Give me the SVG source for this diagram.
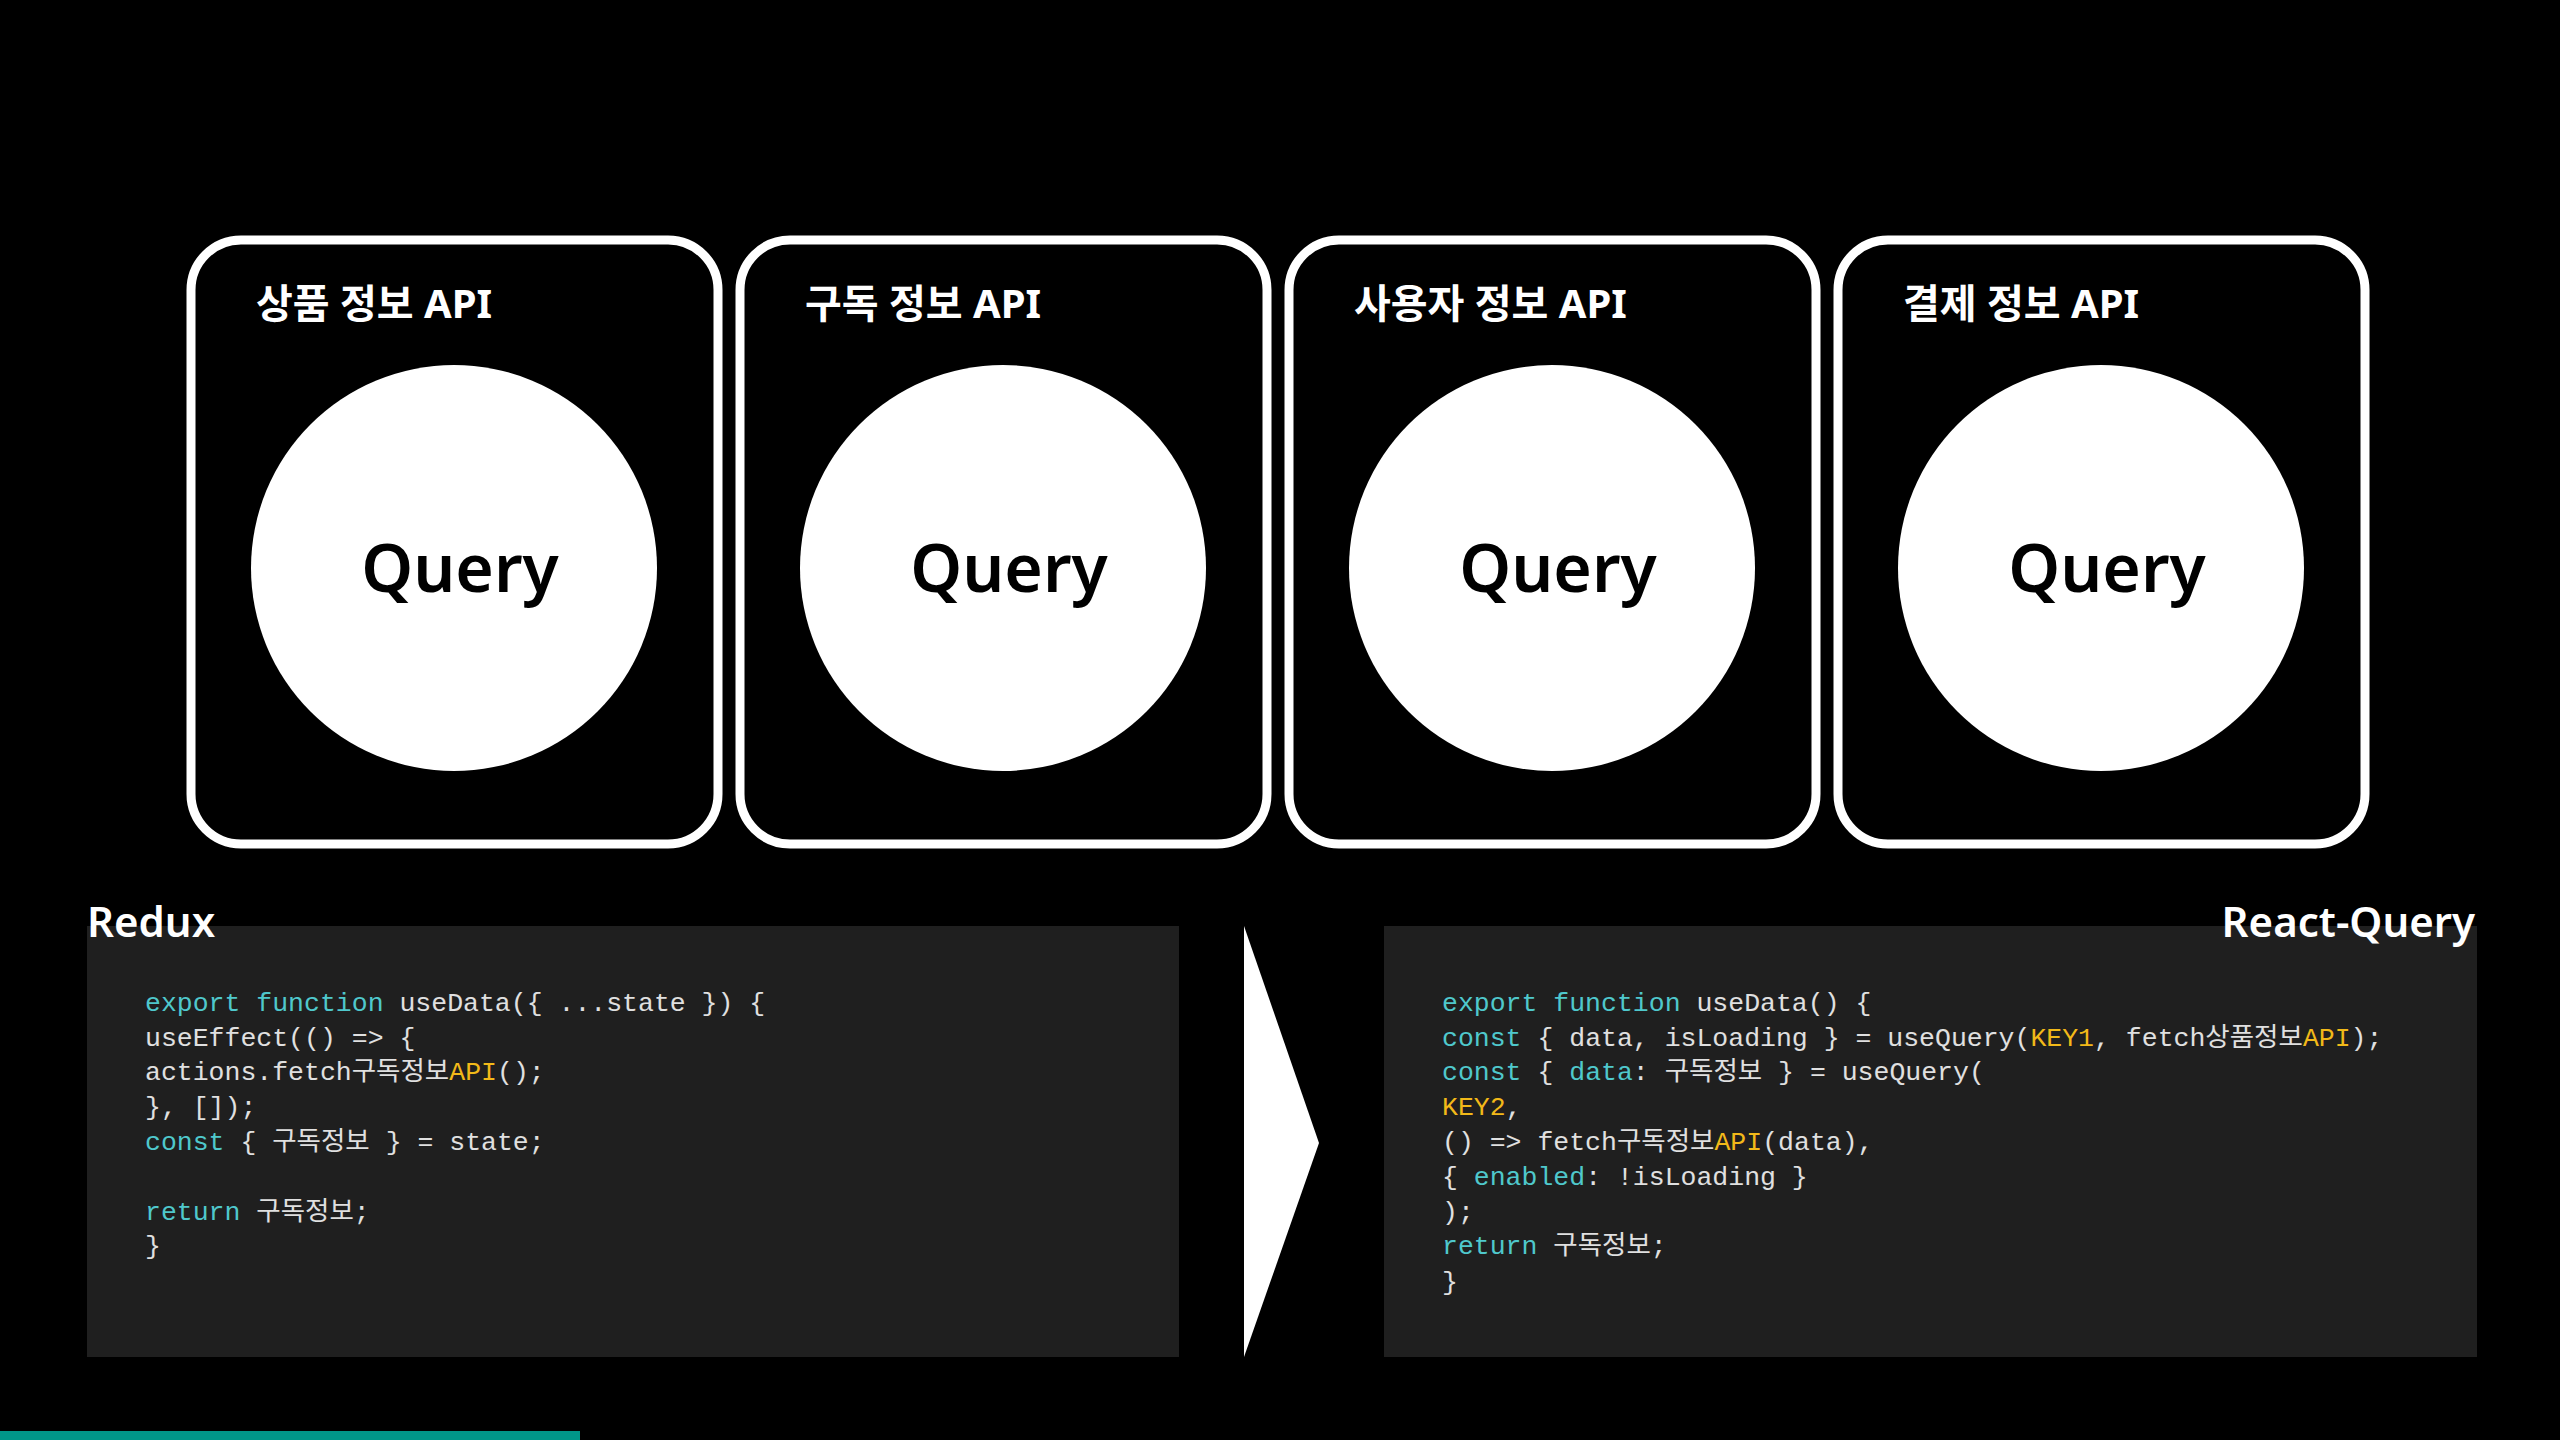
<svg xmlns="http://www.w3.org/2000/svg" width="2560" height="1440" viewBox="0 0 2560 1440">
<style>
.box{fill:#000;stroke:#fff;stroke-width:9}
.ttl{font-family:"Noto Sans","Noto Sans CJK KR",sans-serif;font-weight:700;font-size:40px;fill:#fff}
.q{font-family:"Noto Sans",sans-serif;font-weight:600;font-size:66px;fill:#000;text-anchor:middle}
.lbl{font-family:"Noto Sans",sans-serif;font-weight:600;font-size:42px;fill:#fff}
.code{font-family:"Liberation Mono","Noto Sans CJK KR",monospace;font-size:26.5px;fill:#e0e0e0}
.k{fill:#4fc8cc}.y{fill:#f2b919}
</style>
<rect width="2560" height="1440" fill="#000"/>
<g id="n1"><rect class="box" x="191" y="240" width="527" height="604" rx="50"/><text class="ttl" x="256" y="318">상품 정보 API</text><circle cx="454" cy="568" r="203" fill="#fff"/><text class="q" x="460" y="592">Query</text></g>
<g id="n2"><rect class="box" x="740" y="240" width="527" height="604" rx="50"/><text class="ttl" x="805" y="318">구독 정보 API</text><circle cx="1003" cy="568" r="203" fill="#fff"/><text class="q" x="1009" y="592">Query</text></g>
<g id="n3"><rect class="box" x="1289" y="240" width="527" height="604" rx="50"/><text class="ttl" x="1354" y="318">사용자 정보 API</text><circle cx="1552" cy="568" r="203" fill="#fff"/><text class="q" x="1558" y="592">Query</text></g>
<g id="n4"><rect class="box" x="1838" y="240" width="527" height="604" rx="50"/><text class="ttl" x="1903" y="318">결제 정보 API</text><circle cx="2101" cy="568" r="203" fill="#fff"/><text class="q" x="2107" y="592">Query</text></g>
<g id="redux">
<rect x="87" y="926" width="1092" height="431" fill="#1f1f1f"/>
<text class="lbl" x="87" y="937">Redux</text>
<g class="code" xml:space="preserve">
<text x="145" y="1011"><tspan class="k">export function</tspan> useData({ ...state }) {</text>
<text x="145" y="1046">  useEffect(() =&gt; {</text>
<text x="145" y="1080">    actions.fetch구독정보<tspan class="y">API</tspan>();</text>
<text x="145" y="1115">  }, []);</text>
<text x="145" y="1150">  <tspan class="k">const</tspan> { 구독정보 } = state;</text>
<text x="145" y="1220">  <tspan class="k">return</tspan> 구독정보;</text>
<text x="145" y="1254">}</text>
</g>
</g>
<g id="arrow"><polygon points="1244,926 1319,1143 1244,1357" fill="#fff"/></g>
<g id="rq">
<rect x="1384" y="926" width="1093" height="431" fill="#1f1f1f"/>
<text class="lbl" x="2475" y="937" text-anchor="end">React-Query</text>
<g class="code" xml:space="preserve">
<text x="1442" y="1011"><tspan class="k">export function</tspan> useData() {</text>
<text x="1442" y="1046">  <tspan class="k">const</tspan> { data, isLoading } = useQuery(<tspan class="y">KEY1</tspan>, fetch상품정보<tspan class="y">API</tspan>);</text>
<text x="1442" y="1080">  <tspan class="k">const</tspan> { <tspan class="k">data</tspan>: 구독정보 } = useQuery(</text>
<text x="1442" y="1115">    <tspan class="y">KEY2</tspan>,</text>
<text x="1442" y="1150">    () =&gt; fetch구독정보<tspan class="y">API</tspan>(data),</text>
<text x="1442" y="1185">    { <tspan class="k">enabled</tspan>: !isLoading }</text>
<text x="1442" y="1220">  );</text>
<text x="1442" y="1254">  <tspan class="k">return</tspan> 구독정보;</text>
<text x="1442" y="1290">}</text>
</g>
</g>
<rect x="0" y="1431" width="580" height="9" fill="#009688"/>
</svg>
